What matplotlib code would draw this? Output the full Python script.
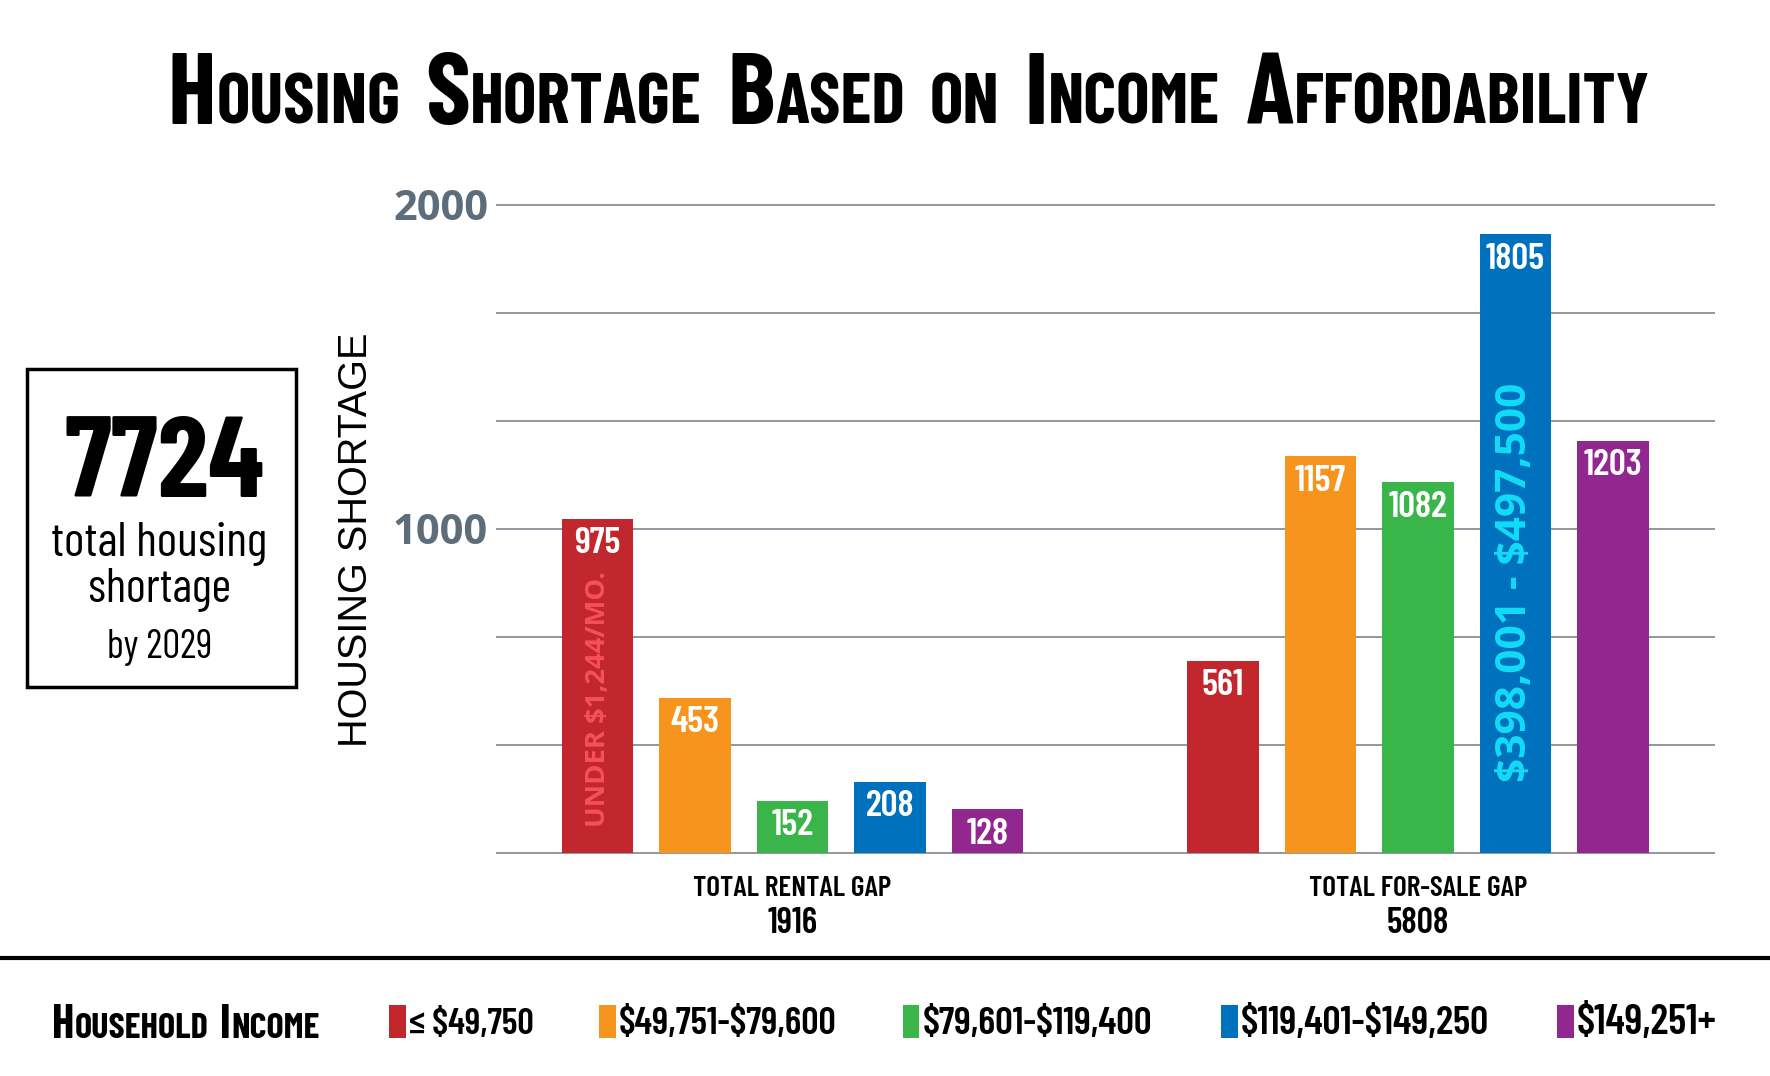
import matplotlib
matplotlib.use("Agg")
import matplotlib.pyplot as plt
from matplotlib.patches import Rectangle
import numpy as np

plt.rcParams["text.parse_math"] = False

W, H = 1770, 1076

# data
groups = ["TOTAL RENTAL GAP", "TOTAL FOR-SALE GAP"]
group_totals = [1916, 5808]
income_bands = ["≤ $49,750", "$49,751-$79,600", "$79,601-$119,400",
                "$119,401-$149,250", "$149,251+"]
rental_gap = [975, 453, 152, 208, 128]
for_sale_gap = [561, 1157, 1082, 1805, 1203]
total_shortage = 7724
band_colors = ["#c1272d", "#f7941d", "#39b54a", "#0071bc", "#92278f"]

# a DIN-like narrow face, with fallbacks
COND = dict(family=["Barlow Condensed", "Liberation Sans Narrow", "DejaVu Sans"],
            stretch="condensed")

fig = plt.figure(figsize=(W / 100, H / 100), dpi=100)
R = fig.canvas.get_renderer()


def size_for(s, target_w, **kw):
    # font size that makes s about target_w pixels wide
    t = fig.text(0, 0, s, fontsize=100, **kw)
    w = t.get_window_extent(R).width
    t.remove()
    return 100 * target_w / w


def fig_text(s, x_px, y_px, width, ha="center", **kw):
    fs = size_for(s, width, **kw)
    return fig.text(x_px / W, 1 - y_px / H, s, fontsize=fs, ha=ha,
                    va="baseline", **kw)


def small_caps(s, cx, base_y, target_w, ratio, gap=0.25, **kw):
    # capitals big, lower case as smaller capitals
    pieces = []
    for word in s.split(" "):
        run = []
        for ch in word:
            big = ch.isupper()
            if run and run[-1][1] == big:
                run[-1][0] += ch.upper()
            else:
                run.append([ch.upper(), big])
        pieces.append(run)

    def build(size, x0, draw):
        x = x0
        arts = []
        for i, run in enumerate(pieces):
            for txt, big in run:
                fs = size if big else size * ratio
                t = fig.text(x / W, 1 - base_y / H, txt, fontsize=fs,
                             va="baseline", ha="left", **kw)
                x += t.get_window_extent(R).width
                arts.append(t)
            if i < len(pieces) - 1:
                x += gap * size * 100 / 72
        if not draw:
            for t in arts:
                t.remove()
        return x - x0

    w = build(100, 0, False)
    size = 100 * target_w / w
    w = build(size, 0, False)
    build(size, cx - w / 2, True)


# title
small_caps("Housing Shortage Based on Income Affordability", 909, 124, 1482,
           0.70, fontweight="bold", **COND)

# main axes
ax = fig.add_axes([497 / W, 1 - 853 / H, (1714 - 497) / W, (853 - 205) / H])
GRID = 315
ax.set_ylim(0, 6 * GRID)
ax.set_xlim(-0.4726, 1.4737)
step = 97.5 / 625.3
bw = 71.5 / 625.3

val_fs = size_for("1805", 59, fontweight="semibold", **COND)
bar_x = []
for g, vals in enumerate([rental_gap, for_sale_gap]):
    xs = g + (np.arange(len(vals)) - 2) * step
    bar_x.append(xs)
    ax.bar(xs, vals, bw, color=band_colors, zorder=2)
    for x, v in zip(xs, vals):
        ax.annotate(str(v), (x, v), xytext=(0, -18), textcoords="offset points",
                    ha="center", va="center", color="white", fontsize=val_fs,
                    fontweight="semibold", zorder=3, **COND)

ax.annotate("UNDER $1,244/MO.", (bar_x[0][0], 0), xytext=(0, 19),
            textcoords="offset points", rotation=90, ha="center", va="bottom",
            color="#f7505d", fontsize=size_for("UNDER $1,244/MO.", 255, family="Open Sans", fontweight="bold"),
            family="Open Sans", fontweight="bold", zorder=3)
ax.annotate("$398,001 - $497,500", (bar_x[1][3], 0), xytext=(0, 51),
            textcoords="offset points", rotation=90, ha="center", va="bottom",
            color="#12dcf8", fontsize=size_for("$398,001 - $497,500", 399, family="Open Sans", fontweight="bold"),
            family="Open Sans", fontweight="bold", zorder=3)

# axes styling
ax.set_yticks(np.arange(7) * GRID)
ax.set_yticklabels(["", "", "", "1000", "", "", "2000"])
ax.tick_params(axis="y", length=0, pad=6.5, labelsize=30, labelcolor="#5d6d7a")
for lab in ax.get_yticklabels():
    lab.set_fontfamily("Open Sans")
    lab.set_fontweight("bold")
ax.grid(axis="y", color="#8f979e", lw=1.4, zorder=0)
for gl in ax.get_ygridlines():
    gl.set_clip_on(False)
ax.set_axisbelow(True)
for sp in ax.spines.values():
    sp.set_visible(False)

# group names as tick labels, totals underneath
grp_fs = size_for(groups[0], 198, fontweight="semibold", **COND)
ax.set_xticks([0, 1])
ax.set_xticklabels(groups, fontsize=grp_fs, fontweight="semibold", **COND)
ax.tick_params(axis="x", length=0, pad=16.5)
tot_fs = size_for(str(group_totals[0]), 50, fontweight="semibold", **COND)
for g, t in enumerate(group_totals):
    ax.annotate(str(t), (g, 0), xytext=(0, -51), textcoords="offset points",
                ha="center", va="center", fontsize=tot_fs,
                fontweight="semibold", annotation_clip=False, **COND)

ax.set_ylabel("HOUSING SHORTAGE", family="Liberation Sans", fontsize=28.5)
ax.yaxis.set_label_coords(-0.1159, 0.483)
ax.yaxis.label.set_va("center")

# total box
fig.add_artist(Rectangle((27 / W, 1 - 687 / H), 269 / W, 318 / H,
                         transform=fig.transFigure, fill=False, lw=2.5,
                         ec="black"))
fig_text(str(total_shortage), 165, 497, 200, fontweight="bold", **COND)
fig_text("total housing", 159, 556, 216, **COND)
fig_text("shortage", 159, 602, 143, **COND)
fig_text("by 2029", 160, 658, 105, **COND)

# legend strip
fig.add_artist(plt.Line2D([0, 1], [1 - 958 / H] * 2, transform=fig.transFigure,
                          color="black", lw=3))
small_caps("Household Income", 186, 1038, 267, 0.775, fontweight="bold", **COND)
patch_x = [389, 599, 903, 1221, 1557]
text_w = [125, 217, 230, 248, 140]
for px, tw, lab, c in zip(patch_x, text_w, income_bands, band_colors):
    fig.add_artist(Rectangle((px / W, 1 - 1038 / H), 16.5 / W, 33 / H,
                             transform=fig.transFigure, color=c, lw=0))
    fig_text(lab, px + 20, 1034, tw, ha="left", fontweight="semibold", **COND)

fig.savefig("out.png", dpi=100)
